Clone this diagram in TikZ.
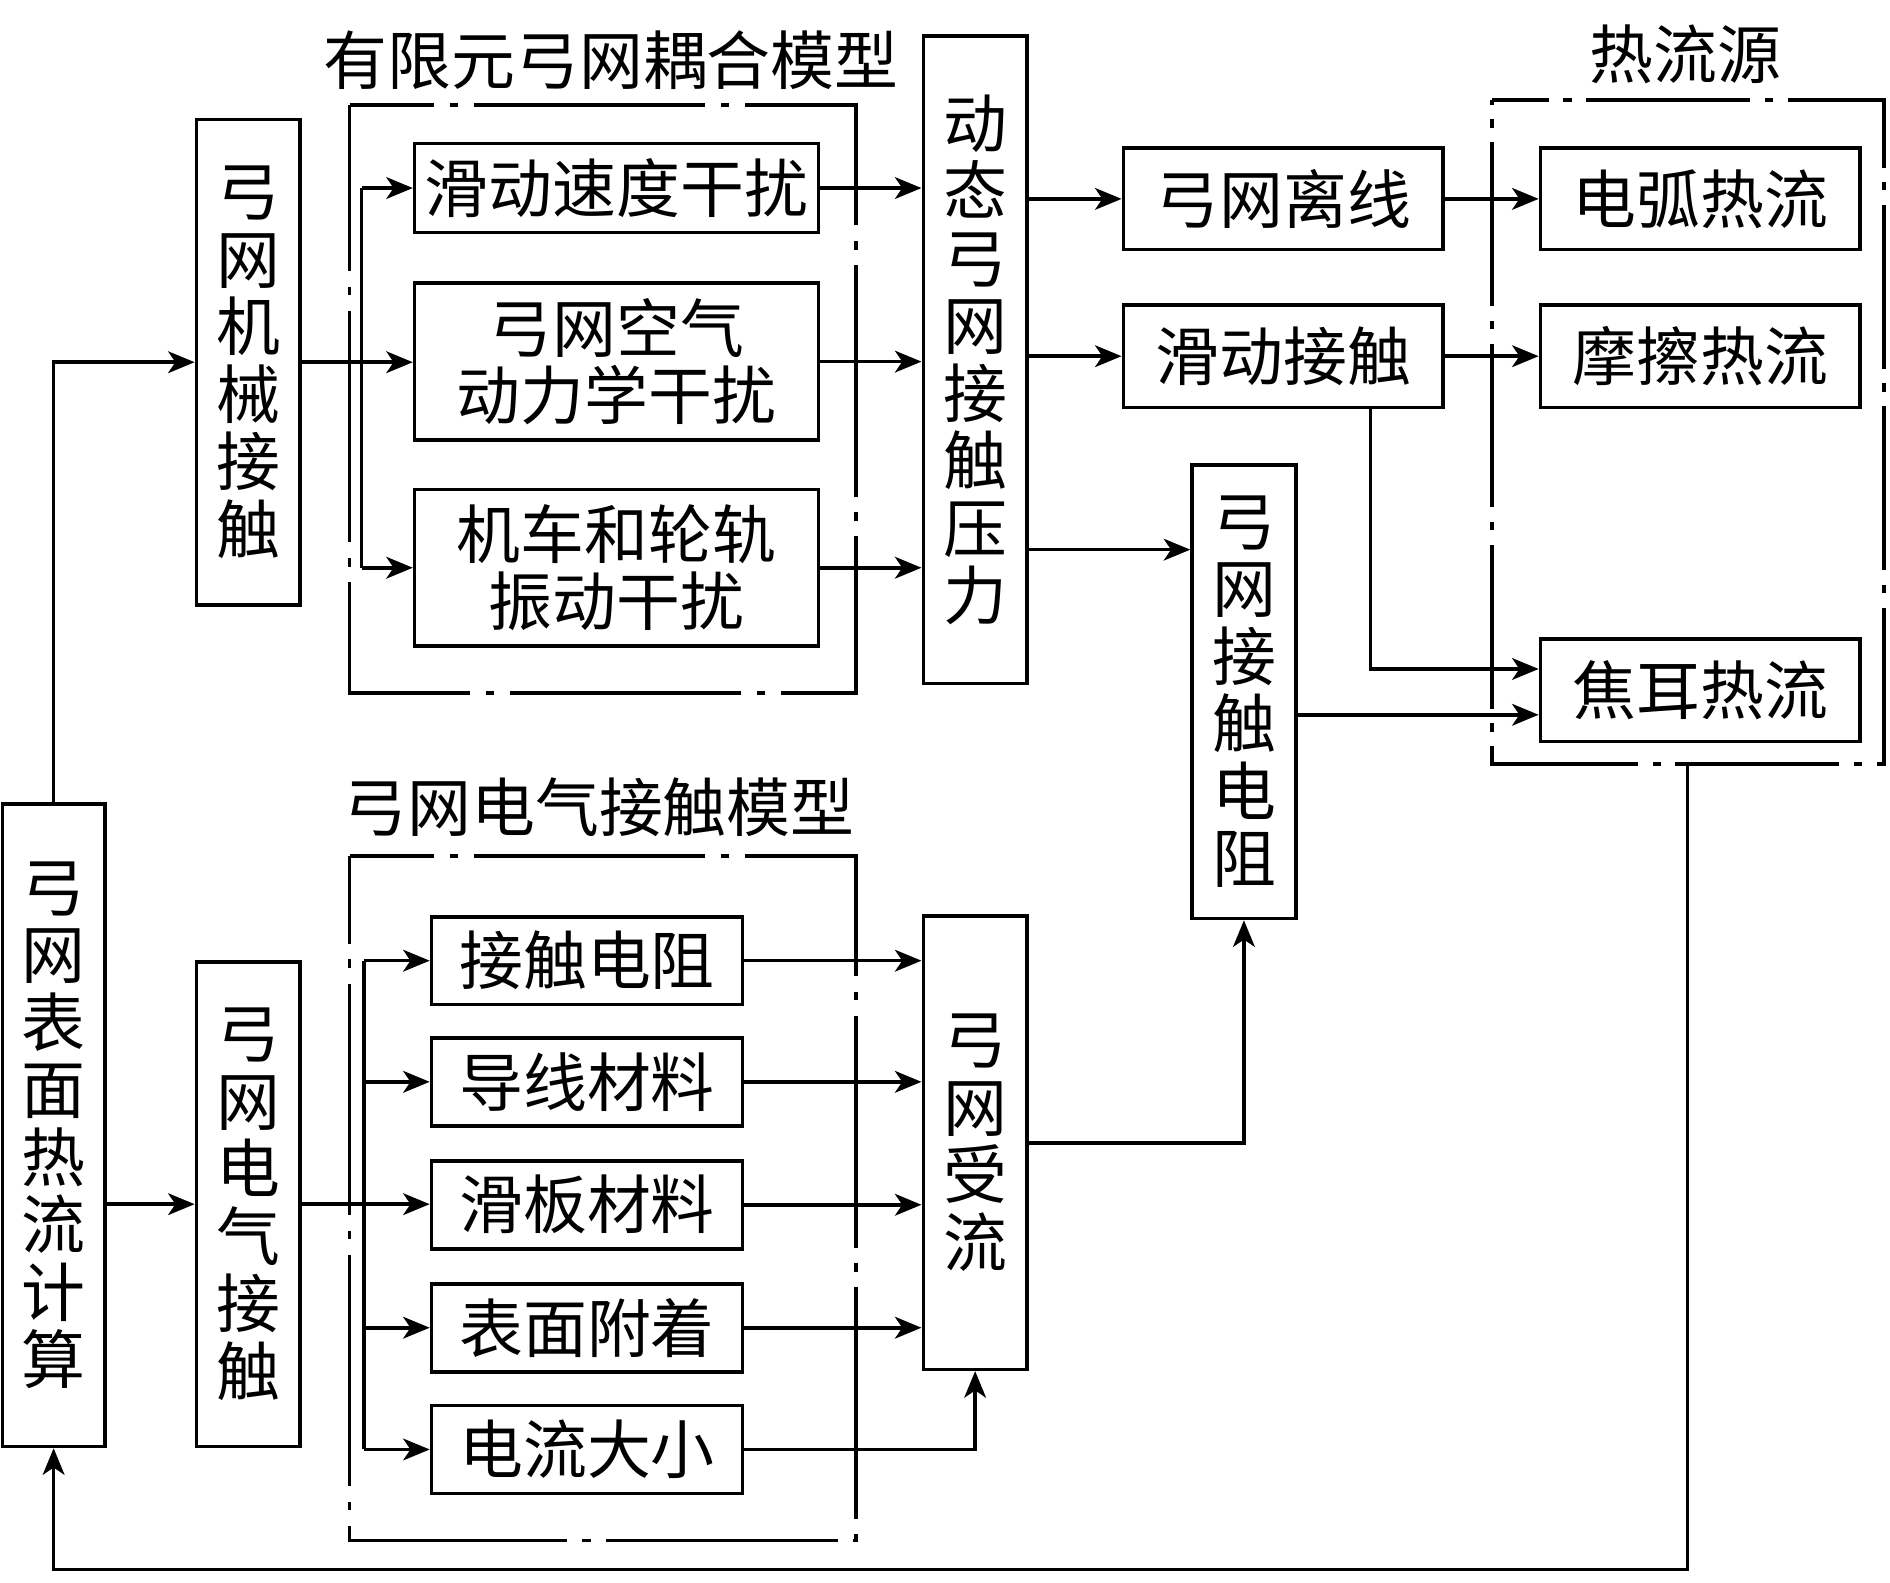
\documentclass[tikz,border=0pt]{standalone}
\usepackage{fontspec}
\newfontfamily\cjk{Noto Sans CJK SC}
\usetikzlibrary{arrows.meta,calc}
\begin{document}
\begin{tikzpicture}[x=0.5pt,y=-0.5pt,
  every node/.style={font=\cjk\fontsize{26.5pt}{28pt}\selectfont},
  box/.style={draw,line width=1.5pt,inner sep=0pt,align=center},
  ln/.style={line width=1.5pt},
  arr/.style={ln,-{Stealth[length=11pt,width=9pt,inset=3pt]}},
  frameA/.style={line width=1.5pt,dash pattern=on 96pt off 6.5pt on 3.5pt off 6.5pt,dash phase=61pt},
  frameB/.style={line width=1.5pt,dash pattern=on 68pt off 6pt on 3.5pt off 6pt,dash phase=44.5pt},
  ttl/.style={inner sep=0pt}
]
\useasboundingbox (0,0) rectangle (1568,1313);

% titles
\node[ttl] (t1) at (507,50) {有限元弓网耦合模型};
\node[ttl] (t2) at (497,670) {弓网电气接触模型};
\node[ttl] (t3) at (1398,45) {热流源};

% frames
\draw[frameA] (290,87) -- (710,87) -- (710,575) -- (290,575) -- cycle;
\draw[frameA] (290,710) -- (710,710) -- (710,1278) -- (290,1278) -- cycle;
\draw[frameB] (1238,83) -- (1563,83) -- (1563,634) -- (1238,634) -- cycle;

% left column
\node[box,minimum width=43pt,minimum height=201.5pt] (mech) at (206,300.5) {弓\\网\\机\\械\\接\\触};
\node[box,minimum width=42.5pt,minimum height=266.5pt] (hc) at (44.5,933.5) {弓\\网\\表\\面\\热\\流\\计\\算};
\node[box,minimum width=43pt,minimum height=201pt] (elec) at (206,999) {弓\\网\\电\\气\\接\\触};

% FEM boxes
\node[box,minimum width=167.5pt,minimum height=37pt] (v1) at (511.5,156) {滑动速度干扰};
\node[box,minimum width=167.5pt,minimum height=65pt] (v2) at (511.5,300) {弓网空气\\动力学干扰};
\node[box,minimum width=167.5pt,minimum height=65pt] (v3) at (511.5,471) {机车和轮轨\\振动干扰};
\node[box,minimum width=43pt,minimum height=268.5pt] (press) at (809,298.5) {动\\态\\弓\\网\\接\\触\\压\\力};

% right
\node[box,minimum width=132.5pt,minimum height=42pt] (off) at (1064.5,165) {弓网离线};
\node[box,minimum width=132.5pt,minimum height=42.5pt] (slide) at (1064.5,295.5) {滑动接触};
\node[box,minimum width=43pt,minimum height=188pt] (res) at (1032,574) {弓\\网\\接\\触\\电\\阻};
\node[box,minimum width=132.5pt,minimum height=42pt] (arc) at (1410.5,165) {电弧热流};
\node[box,minimum width=132.5pt,minimum height=42.5pt] (fric) at (1410.5,295.5) {摩擦热流};
\node[box,minimum width=132.5pt,minimum height=42.5pt] (joule) at (1410.5,572.5) {焦耳热流};

% electrical boxes
\node[box,minimum width=129pt,minimum height=36.5pt] (e1) at (487,797) {接触电阻};
\node[box,minimum width=129pt,minimum height=36.5pt] (e2) at (487,897.5) {导线材料};
\node[box,minimum width=129pt,minimum height=36.5pt] (e3) at (487,999.5) {滑板材料};
\node[box,minimum width=129pt,minimum height=36.5pt] (e4) at (487,1101.5) {表面附着};
\node[box,minimum width=129pt,minimum height=36.5pt] (e5) at (487,1202.5) {电流大小};
\node[box,minimum width=43pt,minimum height=188pt] (recv) at (809,948) {弓\\网\\受\\流};

% connectors: left
\draw[arr] (hc.north) |- (mech.west);
\draw[arr] (hc.east |- elec.west) -- (elec.west);
\draw[arr] (mech.east) -- (mech.east -| v2.west);
\coordinate (b1) at (300,156);
\coordinate (b2) at (300,471);
\draw[ln] (b1) -- (b2);
\draw[arr] (b1) -- (v1.west);
\draw[arr] (b2) -- (v3.west);
\draw[arr] (v1.east) -- (v1.east -| press.west);
\draw[arr] (v2.east) -- (v2.east -| press.west);
\draw[arr] (v3.east) -- (v3.east -| press.west);

% pressure outputs
\draw[arr] (press.east |- off.west) -- (off.west);
\draw[arr] (press.east |- slide.west) -- (slide.west);
\coordinate (c456) at (0,456);
\draw[arr] (press.east |- c456) -- (res.west |- c456);
\draw[arr] (off.east) -- (arc.west);
\draw[arr] (slide.east) -- (fric.west);
\coordinate (j1) at (1137,555);
\draw[arr] (slide.south -| j1) -- (j1) -- (joule.west |- j1);
\coordinate (j2) at (0,593);
\draw[arr] (res.east |- j2) -- (joule.west |- j2);

% feedback
\coordinate (f3b) at (1400,634);
\coordinate (fb) at (1400,1302);
\draw[arr] (f3b) -- (fb) -| (hc.south);

% electrical
\coordinate (eb1) at (302,797);
\coordinate (eb5) at (302,1202.5);
\draw[ln] (eb1) -- (eb5);
\draw[arr] (eb1) -- (e1.west);
\draw[arr] (eb1 |- e2.west) -- (e2.west);
\draw[arr] (eb1 |- e4.west) -- (e4.west);
\draw[arr] (eb5) -- (e5.west);
\draw[arr] (elec.east) -- (elec.east -| e3.west);
\draw[arr] (e1.east) -- (e1.east -| recv.west);
\draw[arr] (e2.east) -- (e2.east -| recv.west);
\draw[arr] (e3.east) -- (e3.east -| recv.west);
\draw[arr] (e4.east) -- (e4.east -| recv.west);
\draw[arr] (e5.east) -| (recv.south);
\draw[arr] (recv.east) -| (res.south);
\end{tikzpicture}
\end{document}
